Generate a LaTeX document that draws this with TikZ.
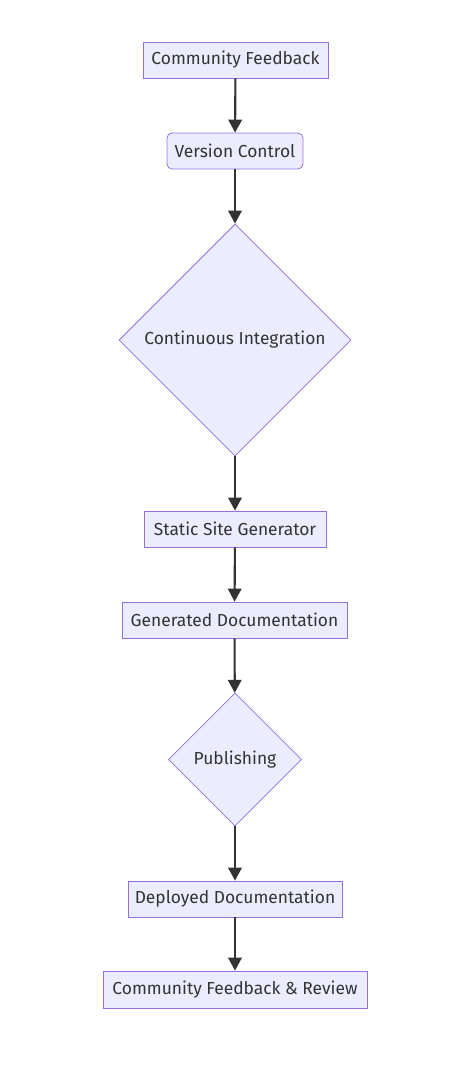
\documentclass[tikz,border=0pt]{standalone}
\usepackage{fontspec}
\setmainfont{Fira Sans}
\usetikzlibrary{shapes.geometric,arrows.meta}

\definecolor{boxfill}{HTML}{ECECFF}
\definecolor{boxline}{HTML}{9370DB}
\definecolor{flowline}{HTML}{333333}

\tikzset{
  stepbox/.style={draw=boxline,fill=boxfill,line width=0.45pt,inner sep=0pt,minimum height=0.72cm,text=flowline},
  decision/.style={diamond,aspect=1,draw=boxline,fill=boxfill,line width=0.45pt,inner sep=0pt,text=flowline},
  flow/.style={draw=flowline,line width=1.2pt,-{Triangle[length=0.26cm,width=0.27cm]}}
}

\begin{document}
\begin{tikzpicture}[x=0.02cm,y=-0.02cm,font=\fontsize{9.9}{12}\selectfont]
\useasboundingbox (0,0) rectangle (474,1068);
\node[stepbox,minimum width=3.70cm] (fb) at (235.5,60) {Community Feedback};
\node[stepbox,minimum width=2.72cm,rounded corners=0.1cm] (vc) at (235,151) {Version Control};
\node[decision,minimum width=4.64cm,minimum height=4.64cm] (ci) at (235,340) {Continuous Integration};
\node[stepbox,minimum width=3.64cm] (ssg) at (235,529) {Static Site Generator};
\node[stepbox,minimum width=4.50cm] (gd) at (234.5,620) {Generated Documentation};
\node[decision,minimum width=2.66cm,minimum height=2.66cm] (pub) at (235,759.5) {Publishing};
\node[stepbox,minimum width=4.28cm] (dd) at (235,899) {Deployed Documentation};
\node[stepbox,minimum width=5.28cm,minimum height=0.74cm] (fr) at (235,989.5) {Community Feedback \& Review};
\draw[flow] (fb) -- (vc);
\draw[flow] (vc) -- (ci);
\draw[flow] (ci) -- (ssg);
\draw[flow] (ssg) -- (gd);
\draw[flow] (gd) -- (pub);
\draw[flow] (pub) -- (dd);
\draw[flow] (dd) -- (fr);
\end{tikzpicture}
\end{document}
